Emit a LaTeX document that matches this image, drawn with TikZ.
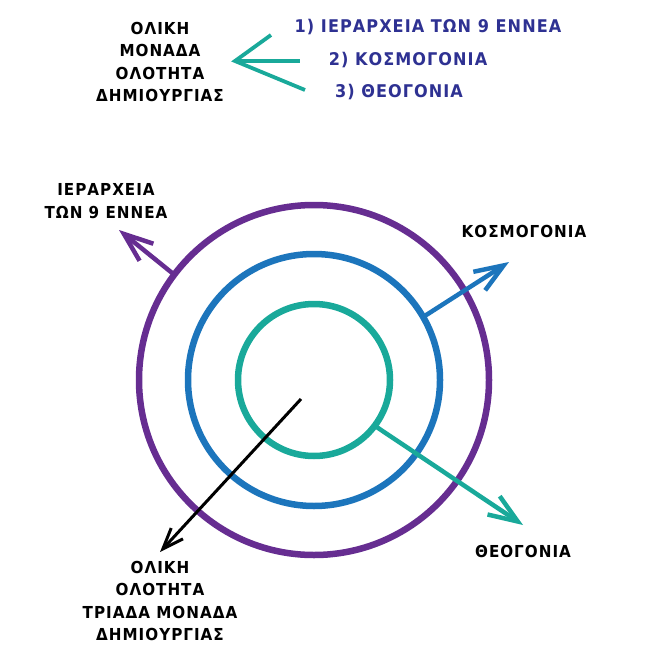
\documentclass[tikz,border=0pt]{standalone}
\usepackage{fontspec}
\setmainfont{DejaVu Sans}[LetterSpace=6,FakeStretch=0.92]
\usetikzlibrary{arrows.meta}
\definecolor{cpurple}{HTML}{662D91}
\definecolor{cblue}{HTML}{1C75BC}
\definecolor{cteal}{HTML}{19A99A}
\definecolor{ctext}{HTML}{2E3192}
\begin{document}
\begin{tikzpicture}[x=1pt,y=-1pt,
  ring/.style={circle,draw,line width=6.5pt,inner sep=0pt,outer sep=0pt,minimum size=#1},
  lbl/.style={font=\bfseries\fontsize{16.5}{22.5}\selectfont,align=center,inner sep=0pt},
  bluelbl/.style={font=\bfseries\fontsize{17.5}{22}\selectfont,text=ctext,inner sep=0pt},
  ray/.style={line width=4.5pt,-{Straight Barb[length=29pt,width=22pt]}},
  blackray/.style={line width=3pt,-{Straight Barb[length=21pt,width=16pt]}},
  fork/.style={cteal,line width=3.8pt},
]
\useasboundingbox (0,0) rectangle (654,671);

% top legend
\node[lbl] (whole) at (160,62) {ΟΛΙΚΗ\\ΜΟΝΑΔΑ\\ΟΛΟΤΗΤΑ\\ΔΗΜΙΟΥΡΓΙΑΣ};
\node[bluelbl] (l1) at (428,27) {1) ΙΕΡΑΡΧΕΙΑ ΤΩΝ 9 ΕΝΝΕΑ};
\node[bluelbl] (l2) at (408,60) {2) ΚΟΣΜΟΓΟΝΙΑ};
\node[bluelbl] (l3) at (399,92) {3) ΘΕΟΓΟΝΙΑ};
\coordinate (v) at (235,61);
\coordinate (f1) at (271,35);
\coordinate (f2) at (300,61);
\coordinate (f3) at (305,90);
\draw[fork] (f1) -- (v) -- (f3);
\draw[fork] (v) -- (f2);

% rings
\node[ring=350pt,draw=cpurple] (outer) at (314,380) {};
\node[ring=252pt,draw=cblue] (middle) at (314,380) {};
\node[ring=152pt,draw=cteal] (inner) at (314,380) {};

% rays
\coordinate (tp) at (119,230);
\coordinate (tb) at (509,262);
\coordinate (tt) at (523,525);
\coordinate (bs) at (301,399);
\coordinate (tk) at (160,552);
\draw[ray,cpurple] (outer.143) -- (tp);
\draw[ray,cblue] (middle.30) -- (tb);
\draw[ray,cteal] (inner.-37) -- (tt);
\draw[blackray,black] (bs) -- (tk);

% labels
\node[lbl] (hier) at (106,201) {ΙΕΡΑΡΧΕΙΑ\\ΤΩΝ 9 ΕΝΝΕΑ};
\node[lbl] (kosmo) at (524,231) {ΚΟΣΜΟΓΟΝΙΑ};
\node[lbl] (theo) at (523,551) {ΘΕΟΓΟΝΙΑ};
\node[lbl] (total) at (160,601) {ΟΛΙΚΗ\\ΟΛΟΤΗΤΑ\\ΤΡΙΑΔΑ ΜΟΝΑΔΑ\\ΔΗΜΙΟΥΡΓΙΑΣ};
\end{tikzpicture}
\end{document}
